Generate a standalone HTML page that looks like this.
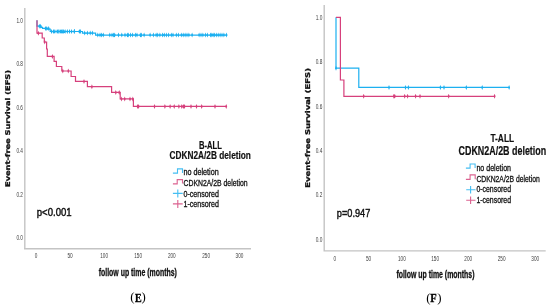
<!DOCTYPE html>
<html><head><meta charset="utf-8"><title>EFS Kaplan-Meier curves</title>
<style>
html,body{margin:0;padding:0;background:#fff;}
body{width:550px;height:308px;overflow:hidden;position:relative;}
svg{position:absolute;left:0;top:0;display:block;}
text{font-family:"Liberation Sans",sans-serif;}
.b{font-weight:bold;}
.t{stroke:#111;stroke-width:0.3px;}
.tk{stroke:#333;stroke-width:0.2px;}
.serif{font-family:"Liberation Serif",serif;}
</style></head>
<body>
<svg width="550" height="308" viewBox="0 0 550 308">
<rect width="550" height="308" fill="#fff"/>
<path d="M24.8,8V249.2M24,248.8H251" stroke="#c4c4c4" stroke-width="1.4" fill="none"/>
<text x="23.0" y="23.0" text-anchor="end" font-size="7.0" fill="#3c3c3c" textLength="6.6" lengthAdjust="spacingAndGlyphs">1.0</text>
<text x="23.0" y="66.4" text-anchor="end" font-size="7.0" fill="#3c3c3c" textLength="6.6" lengthAdjust="spacingAndGlyphs">0.8</text>
<text x="23.0" y="109.7" text-anchor="end" font-size="7.0" fill="#3c3c3c" textLength="6.6" lengthAdjust="spacingAndGlyphs">0.6</text>
<text x="23.0" y="153.2" text-anchor="end" font-size="7.0" fill="#3c3c3c" textLength="6.6" lengthAdjust="spacingAndGlyphs">0.4</text>
<text x="23.0" y="196.8" text-anchor="end" font-size="7.0" fill="#3c3c3c" textLength="6.6" lengthAdjust="spacingAndGlyphs">0.2</text>
<text x="23.0" y="240.0" text-anchor="end" font-size="7.0" fill="#3c3c3c" textLength="6.6" lengthAdjust="spacingAndGlyphs">0.0</text>
<text x="34.7" y="257.9" font-size="7.0" fill="#3c3c3c" textLength="2.6" lengthAdjust="spacingAndGlyphs">0</text>
<text x="67.4" y="257.9" font-size="7.0" fill="#3c3c3c" textLength="5.3" lengthAdjust="spacingAndGlyphs">50</text>
<text x="100.2" y="257.9" font-size="7.0" fill="#3c3c3c" textLength="7.8" lengthAdjust="spacingAndGlyphs">100</text>
<text x="134.2" y="257.9" font-size="7.0" fill="#3c3c3c" textLength="7.8" lengthAdjust="spacingAndGlyphs">150</text>
<text x="167.9" y="257.9" font-size="7.0" fill="#3c3c3c" textLength="7.8" lengthAdjust="spacingAndGlyphs">200</text>
<text x="202.2" y="257.9" font-size="7.0" fill="#3c3c3c" textLength="7.8" lengthAdjust="spacingAndGlyphs">250</text>
<text x="235.6" y="257.9" font-size="7.0" fill="#3c3c3c" textLength="7.8" lengthAdjust="spacingAndGlyphs">300</text>
<path d="M37,20.2V26.2H41.1V27.3H42.5V28.4H47.6V29.1H50.2V31.5H82.5V33.1H95.6V35.1H227.3" stroke="#1cb0f0" stroke-width="1.2" fill="none"/>
<path d="M37,20.2V33.2H42.2V38H44.3V42H46.6V49H47.3V56.4H54.1V61.4H56.4V66.5H61.8V71H71.1V76.5H75.5V81.4H87.4V86.7H111.6V92.4H120.2V98.9H133.4V106.4H227" stroke="#d6407c" stroke-width="1.2" fill="none"/>
<path d="M39.3,23.7L40.3,26.2L39.3,28.7L38.3,26.2ZM40.5,23.7L41.5,26.2L40.5,28.7L39.5,26.2Z" fill="#1cb0f0"/>
<path d="M45.5,25.9L46.5,28.4L45.5,30.9L44.5,28.4ZM46.8,25.9L47.8,28.4L46.8,30.9L45.8,28.4ZM48.7,25.9L49.7,28.4L48.7,30.9L47.7,28.4Z" fill="#1cb0f0"/>
<path d="M51.6,29.0L52.6,31.5L51.6,34.0L50.6,31.5ZM53.5,29.0L54.5,31.5L53.5,34.0L52.5,31.5ZM54.9,29.0L55.9,31.5L54.9,34.0L53.9,31.5ZM57.1,29.0L58.1,31.5L57.1,34.0L56.1,31.5ZM58.2,29.0L59.2,31.5L58.2,34.0L57.2,31.5ZM60.0,29.0L61.0,31.5L60.0,34.0L59.0,31.5ZM61.1,29.0L62.1,31.5L61.1,34.0L60.1,31.5ZM62.2,29.0L63.2,31.5L62.2,34.0L61.2,31.5ZM63.6,29.0L64.6,31.5L63.6,34.0L62.6,31.5ZM65.1,29.0L66.1,31.5L65.1,34.0L64.1,31.5ZM67.3,29.0L68.3,31.5L67.3,34.0L66.3,31.5ZM69.5,29.0L70.5,31.5L69.5,34.0L68.5,31.5ZM71.6,29.0L72.6,31.5L71.6,34.0L70.6,31.5ZM74.2,29.0L75.2,31.5L74.2,34.0L73.2,31.5ZM74.4,29.0L75.4,31.5L74.4,34.0L73.4,31.5ZM79.3,29.0L80.3,31.5L79.3,34.0L78.3,31.5ZM80.4,29.0L81.4,31.5L80.4,34.0L79.4,31.5Z" fill="#1cb0f0"/>
<path d="M84.7,30.6L85.7,33.1L84.7,35.6L83.7,33.1ZM87.4,30.6L88.4,33.1L87.4,35.6L86.4,33.1ZM90.2,30.6L91.2,33.1L90.2,35.6L89.2,33.1ZM92.4,30.6L93.4,33.1L92.4,35.6L91.4,33.1Z" fill="#1cb0f0"/>
<path d="M97.8,32.6L98.8,35.1L97.8,37.6L96.8,35.1ZM100.0,32.6L101.0,35.1L100.0,37.6L99.0,35.1ZM101.6,32.6L102.6,35.1L101.6,37.6L100.6,35.1ZM103.3,32.6L104.3,35.1L103.3,37.6L102.3,35.1ZM109.8,32.6L110.8,35.1L109.8,37.6L108.8,35.1ZM112.0,32.6L113.0,35.1L112.0,37.6L111.0,35.1ZM113.6,32.6L114.6,35.1L113.6,37.6L112.6,35.1ZM114.7,32.6L115.7,35.1L114.7,37.6L113.7,35.1ZM118.5,32.6L119.5,35.1L118.5,37.6L117.5,35.1ZM121.8,32.6L122.8,35.1L121.8,37.6L120.8,35.1ZM125.0,32.6L126.0,35.1L125.0,37.6L124.0,35.1ZM127.3,32.6L128.3,35.1L127.3,37.6L126.3,35.1ZM128.3,32.6L129.3,35.1L128.3,37.6L127.3,35.1ZM130.5,32.6L131.5,35.1L130.5,37.6L129.5,35.1ZM132.6,32.6L133.6,35.1L132.6,37.6L131.6,35.1ZM135.4,32.6L136.4,35.1L135.4,37.6L134.4,35.1ZM137.0,32.6L138.0,35.1L137.0,37.6L136.0,35.1ZM140.3,32.6L141.3,35.1L140.3,37.6L139.3,35.1ZM141.4,32.6L142.4,35.1L141.4,37.6L140.4,35.1ZM144.1,32.6L145.1,35.1L144.1,37.6L143.1,35.1ZM150.1,32.6L151.1,35.1L150.1,37.6L149.1,35.1ZM153.4,32.6L154.4,35.1L153.4,37.6L152.4,35.1ZM156.1,32.6L157.1,35.1L156.1,37.6L155.1,35.1ZM157.7,32.6L158.7,35.1L157.7,37.6L156.7,35.1ZM159.9,32.6L160.9,35.1L159.9,37.6L158.9,35.1ZM162.6,32.6L163.6,35.1L162.6,37.6L161.6,35.1ZM164.3,32.6L165.3,35.1L164.3,37.6L163.3,35.1ZM166.4,32.6L167.4,35.1L166.4,37.6L165.4,35.1ZM168.6,32.6L169.6,35.1L168.6,37.6L167.6,35.1ZM171.3,32.6L172.3,35.1L171.3,37.6L170.3,35.1ZM173.0,32.6L174.0,35.1L173.0,37.6L172.0,35.1ZM176.3,32.6L177.3,35.1L176.3,37.6L175.3,35.1ZM178.4,32.6L179.4,35.1L178.4,37.6L177.4,35.1ZM181.3,32.6L182.3,35.1L181.3,37.6L180.3,35.1ZM183.2,32.6L184.2,35.1L183.2,37.6L182.2,35.1ZM185.1,32.6L186.1,35.1L185.1,37.6L184.1,35.1ZM187.0,32.6L188.0,35.1L187.0,37.6L186.0,35.1ZM188.9,32.6L189.9,35.1L188.9,37.6L187.9,35.1ZM192.1,32.6L193.1,35.1L192.1,37.6L191.1,35.1ZM199.1,32.6L200.1,35.1L199.1,37.6L198.1,35.1ZM201.0,32.6L202.0,35.1L201.0,37.6L200.0,35.1ZM202.9,32.6L203.9,35.1L202.9,37.6L201.9,35.1ZM205.4,32.6L206.4,35.1L205.4,37.6L204.4,35.1ZM207.4,32.6L208.4,35.1L207.4,37.6L206.4,35.1ZM210.5,32.6L211.5,35.1L210.5,37.6L209.5,35.1ZM211.8,32.6L212.8,35.1L211.8,37.6L210.8,35.1ZM213.1,32.6L214.1,35.1L213.1,37.6L212.1,35.1ZM214.4,32.6L215.4,35.1L214.4,37.6L213.4,35.1ZM216.3,32.6L217.3,35.1L216.3,37.6L215.3,35.1ZM218.2,32.6L219.2,35.1L218.2,37.6L217.2,35.1ZM220.1,32.6L221.1,35.1L220.1,37.6L219.1,35.1ZM222.0,32.6L223.0,35.1L222.0,37.6L221.0,35.1ZM223.9,32.6L224.9,35.1L223.9,37.6L222.9,35.1ZM226.4,32.6L227.4,35.1L226.4,37.6L225.4,35.1Z" fill="#1cb0f0"/>
<path d="M38.4,30.7L39.4,33.2L38.4,35.7L37.4,33.2Z" fill="#d6407c"/>
<path d="M44.7,39.5L45.7,42.0L44.7,44.5L43.7,42.0Z" fill="#d6407c"/>
<path d="M52.4,53.9L53.4,56.4L52.4,58.9L51.4,56.4Z" fill="#d6407c"/>
<path d="M62.8,68.5L63.8,71.0L62.8,73.5L61.8,71.0Z" fill="#d6407c"/>
<path d="M68.3,68.5L69.3,71.0L68.3,73.5L67.3,71.0Z" fill="#d6407c"/>
<path d="M84.0,78.9L85.0,81.4L84.0,83.9L83.0,81.4Z" fill="#d6407c"/>
<path d="M91.9,84.2L92.9,86.7L91.9,89.2L90.9,86.7Z" fill="#d6407c"/>
<path d="M115.8,89.9L116.8,92.4L115.8,94.9L114.8,92.4Z" fill="#d6407c"/>
<path d="M119.2,89.9L120.2,92.4L119.2,94.9L118.2,92.4Z" fill="#d6407c"/>
<path d="M121.5,96.4L122.5,98.9L121.5,101.4L120.5,98.9Z" fill="#d6407c"/>
<path d="M124.7,96.4L125.7,98.9L124.7,101.4L123.7,98.9Z" fill="#d6407c"/>
<path d="M130.0,96.4L131.0,98.9L130.0,101.4L129.0,98.9Z" fill="#d6407c"/>
<path d="M132.8,96.4L133.8,98.9L132.8,101.4L131.8,98.9Z" fill="#d6407c"/>
<path d="M137.6,103.9L138.6,106.4L137.6,108.9L136.6,106.4ZM138.6,103.9L139.6,106.4L138.6,108.9L137.6,106.4ZM154.5,103.9L155.5,106.4L154.5,108.9L153.5,106.4ZM164.9,103.9L165.9,106.4L164.9,108.9L163.9,106.4ZM170.1,103.9L171.1,106.4L170.1,108.9L169.1,106.4ZM174.2,103.9L175.2,106.4L174.2,108.9L173.2,106.4ZM178.9,103.9L179.9,106.4L178.9,108.9L177.9,106.4ZM181.8,103.9L182.8,106.4L181.8,108.9L180.8,106.4ZM183.4,103.9L184.4,106.4L183.4,108.9L182.4,106.4ZM184.5,103.9L185.5,106.4L184.5,108.9L183.5,106.4ZM191.0,103.9L192.0,106.4L191.0,108.9L190.0,106.4ZM196.5,103.9L197.5,106.4L196.5,108.9L195.5,106.4ZM201.7,103.9L202.7,106.4L201.7,108.9L200.7,106.4ZM215.0,103.9L216.0,106.4L215.0,108.9L214.0,106.4ZM226.2,103.9L227.2,106.4L226.2,108.9L225.2,106.4Z" fill="#d6407c"/>
<path d="M324.2,5V251.6M323.5,250.9H545.7" stroke="#c4c4c4" stroke-width="1.4" fill="none"/>
<text x="322.3" y="19.9" text-anchor="end" font-size="7.0" fill="#3c3c3c" textLength="6.6" lengthAdjust="spacingAndGlyphs">1.0</text>
<text x="322.3" y="64.1" text-anchor="end" font-size="7.0" fill="#3c3c3c" textLength="6.6" lengthAdjust="spacingAndGlyphs">0.8</text>
<text x="322.3" y="108.7" text-anchor="end" font-size="7.0" fill="#3c3c3c" textLength="6.6" lengthAdjust="spacingAndGlyphs">0.6</text>
<text x="322.3" y="152.5" text-anchor="end" font-size="7.0" fill="#3c3c3c" textLength="6.6" lengthAdjust="spacingAndGlyphs">0.4</text>
<text x="322.3" y="197.1" text-anchor="end" font-size="7.0" fill="#3c3c3c" textLength="6.6" lengthAdjust="spacingAndGlyphs">0.2</text>
<text x="322.3" y="241.5" text-anchor="end" font-size="7.0" fill="#3c3c3c" textLength="6.6" lengthAdjust="spacingAndGlyphs">0.0</text>
<text x="333.5" y="260.8" font-size="7.0" fill="#3c3c3c" textLength="2.6" lengthAdjust="spacingAndGlyphs">0</text>
<text x="365.9" y="260.8" font-size="7.0" fill="#3c3c3c" textLength="5.3" lengthAdjust="spacingAndGlyphs">50</text>
<text x="398.0" y="260.8" font-size="7.0" fill="#3c3c3c" textLength="7.8" lengthAdjust="spacingAndGlyphs">100</text>
<text x="431.2" y="260.8" font-size="7.0" fill="#3c3c3c" textLength="7.8" lengthAdjust="spacingAndGlyphs">150</text>
<text x="464.3" y="260.8" font-size="7.0" fill="#3c3c3c" textLength="7.8" lengthAdjust="spacingAndGlyphs">200</text>
<text x="497.7" y="260.8" font-size="7.0" fill="#3c3c3c" textLength="7.8" lengthAdjust="spacingAndGlyphs">250</text>
<text x="531.3" y="260.8" font-size="7.0" fill="#3c3c3c" textLength="7.8" lengthAdjust="spacingAndGlyphs">300</text>
<path d="M336,17.2V68.2H358.8V87.4H509.1" stroke="#1cb0f0" stroke-width="1.2" fill="none"/>
<path d="M336,17.3H340.4V80H343.9V96.3H494.6" stroke="#d6407c" stroke-width="1.2" fill="none"/>
<path d="M336.0,65.7L337.0,68.2L336.0,70.7L335.0,68.2Z" fill="#1cb0f0"/>
<path d="M389.0,84.9L390.0,87.4L389.0,89.9L388.0,87.4ZM405.5,84.9L406.5,87.4L405.5,89.9L404.5,87.4ZM408.4,84.9L409.4,87.4L408.4,89.9L407.4,87.4ZM440.4,84.9L441.4,87.4L440.4,89.9L439.4,87.4ZM444.0,84.9L445.0,87.4L444.0,89.9L443.0,87.4ZM466.3,84.9L467.3,87.4L466.3,89.9L465.3,87.4ZM482.2,84.9L483.2,87.4L482.2,89.9L481.2,87.4ZM509.1,84.9L510.1,87.4L509.1,89.9L508.1,87.4Z" fill="#1cb0f0"/>
<path d="M363.7,93.8L364.7,96.3L363.7,98.8L362.7,96.3ZM393.8,93.8L394.8,96.3L393.8,98.8L392.8,96.3ZM394.8,93.8L395.8,96.3L394.8,98.8L393.8,96.3ZM404.7,93.8L405.7,96.3L404.7,98.8L403.7,96.3ZM407.6,93.8L408.6,96.3L407.6,98.8L406.6,96.3ZM415.6,93.8L416.6,96.3L415.6,98.8L414.6,96.3ZM420.0,93.8L421.0,96.3L420.0,98.8L419.0,96.3ZM448.7,93.8L449.7,96.3L448.7,98.8L447.7,96.3ZM494.6,93.8L495.6,96.3L494.6,98.8L493.6,96.3Z" fill="#d6407c"/>
<!-- Y axis titles -->
<text class="b t" transform="translate(9.9,187) rotate(-90)" font-size="6.5" fill="#111" textLength="117" lengthAdjust="spacingAndGlyphs" style="font-family:'DejaVu Sans',sans-serif">Event-free Survival (EFS)</text>
<text class="b t" transform="translate(309.5,187.7) rotate(-90)" font-size="6.6" fill="#111" textLength="119.7" lengthAdjust="spacingAndGlyphs" style="font-family:'DejaVu Sans',sans-serif">Event-free Survival (EFS)</text>
<!-- X axis titles -->
<text class="b t" x="98.7" y="275.6" font-size="10.0" fill="#111" textLength="78.2" lengthAdjust="spacingAndGlyphs">follow up time (months)</text>
<text class="b t" x="396.4" y="278" font-size="10.0" fill="#111" textLength="78.1" lengthAdjust="spacingAndGlyphs">follow up time (months)</text>
<!-- p values -->
<text class="t" style="stroke-width:0.45px" x="36.8" y="215.8" font-size="11.4" fill="#111" textLength="34.9" lengthAdjust="spacingAndGlyphs">p&lt;0.001</text>
<text class="t" style="stroke-width:0.45px" x="336.8" y="216.9" font-size="11.6" fill="#111" textLength="33.5" lengthAdjust="spacingAndGlyphs">p=0.947</text>
<!-- titles -->
<text class="b t" style="stroke-width:0.2px" x="199" y="148.6" font-size="10.6" fill="#111" textLength="22.9" lengthAdjust="spacingAndGlyphs">B-ALL</text>
<text class="b t" style="stroke-width:0.2px" x="169.6" y="159.4" font-size="10.9" fill="#111" textLength="81.3" lengthAdjust="spacingAndGlyphs">CDKN2A/2B deletion</text>
<text class="b t" style="stroke-width:0.2px" x="490.4" y="141.7" font-size="11.7" fill="#111" textLength="23.8" lengthAdjust="spacingAndGlyphs">T-ALL</text>
<text class="b t" style="stroke-width:0.2px" x="458.5" y="154.7" font-size="12" fill="#111" textLength="87.7" lengthAdjust="spacingAndGlyphs">CDKN2A/2B deletion</text>
<!-- legend E -->
<path d="M172.9,173.1H177.5V168.9H182.5V173.1" stroke="#45bef2" stroke-width="1.1" fill="none"/>
<path d="M172.9,183.9H177.2V179.6H182.5V183.6" stroke="#db6290" stroke-width="1.1" fill="none"/>
<path d="M172.9,193.4H182.7M177.8,189.6V197.4" stroke="#45bef2" stroke-width="1.1" fill="none"/>
<path d="M172.9,203.9H182.7M177.8,200.1V207.9" stroke="#db6290" stroke-width="1.1" fill="none"/>
<text class="t" x="183.5" y="175.3" font-size="8.6" fill="#111" textLength="35.2" lengthAdjust="spacingAndGlyphs">no deletion</text>
<text class="t" x="183.5" y="185.9" font-size="8.6" fill="#111" textLength="64.1" lengthAdjust="spacingAndGlyphs">CDKN2A/2B deletion</text>
<text class="t" x="183.5" y="196.5" font-size="8.6" fill="#111" textLength="35.5" lengthAdjust="spacingAndGlyphs">0-censored</text>
<text class="t" x="183.5" y="207.2" font-size="8.6" fill="#111" textLength="35.5" lengthAdjust="spacingAndGlyphs">1-censored</text>
<!-- legend F -->
<path d="M465.9,168.1H470.1V164H475.1V168.1" stroke="#45bef2" stroke-width="1.1" fill="none"/>
<path d="M465.9,179.4H470.1V174.9H475.2V179.2" stroke="#db6290" stroke-width="1.1" fill="none"/>
<path d="M466.2,189.7H475.5M470.6,185.9V193.5" stroke="#45bef2" stroke-width="1.1" fill="none"/>
<path d="M466.2,200.2H475.5M470.6,196.4V204" stroke="#db6290" stroke-width="1.1" fill="none"/>
<text class="t" x="476.4" y="170.5" font-size="8.8" fill="#111" textLength="34.6" lengthAdjust="spacingAndGlyphs">no deletion</text>
<text class="t" x="476.4" y="181.5" font-size="8.8" fill="#111" textLength="63.3" lengthAdjust="spacingAndGlyphs">CDKN2A/2B deletion</text>
<text class="t" x="476.4" y="192.3" font-size="8.8" fill="#111" textLength="34.6" lengthAdjust="spacingAndGlyphs">0-censored</text>
<text class="t" x="476.4" y="202.8" font-size="8.8" fill="#111" textLength="34.6" lengthAdjust="spacingAndGlyphs">1-censored</text>
<!-- panel letters -->
<text class="serif" x="130.33" y="301.45" font-size="12.9" fill="#000">(</text>
<text class="serif" transform="translate(134.94,301.6) scale(0.84,1)" font-size="11.9" font-weight="bold" fill="#000" stroke="#000" stroke-width="0.35">E</text>
<text class="serif" x="141.49" y="301.45" font-size="12.9" fill="#000">)</text>
<text class="serif" x="426.13" y="301.85" font-size="12.9" fill="#000">(</text>
<text class="serif" transform="translate(430.24,301.6) scale(0.88,1)" font-size="11.9" font-weight="bold" fill="#000" stroke="#000" stroke-width="0.35">F</text>
<text class="serif" x="437.19" y="301.85" font-size="12.9" fill="#000">)</text>
</svg>
</body></html>
